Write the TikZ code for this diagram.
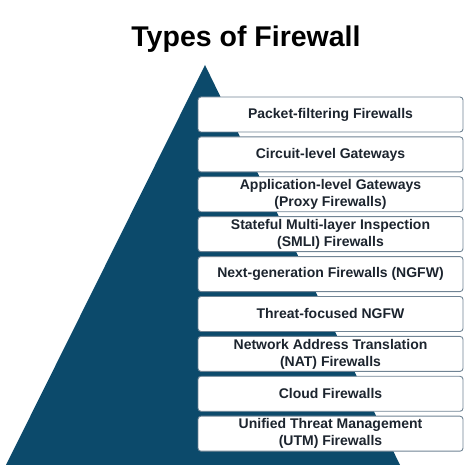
\documentclass[tikz,border=0pt]{standalone}
\usepackage{fontspec}
\setmainfont{Liberation Sans}
\usepackage{tikz}
\usetikzlibrary{positioning}
\definecolor{pyramid}{RGB}{12,74,107}
\definecolor{boxline}{RGB}{112,132,148}
\definecolor{ink}{RGB}{28,36,46}

\begin{document}
\begin{tikzpicture}[x=1pt,y=1pt,node distance=39.9pt]
\tikzstyle{layer}=[rounded corners=3pt, draw=boxline, line width=0.9pt, fill=white,
  minimum width=265pt, minimum height=35pt, inner sep=1pt, align=center,
  text=ink, font=\fontsize{14}{17}\selectfont\bfseries]
\useasboundingbox (0,0) rectangle (474,470);
\fill[pyramid] (205,405) -- (400,5) -- (6,5) -- cycle;
\node [anchor=base, text=black, font=\fontsize{28.5}{30}\selectfont\bfseries] (title) at (246,423) {Types of Firewall};

\node [layer] (pf) at (330.5,355.5) {Packet-filtering Firewalls};
\node [layer,below of=pf] (cl) {Circuit-level Gateways};
\node [layer,below of=cl] (al) {Application-level Gateways\\(Proxy Firewalls)};
\node [layer,below of=al] (smli) {Stateful Multi-layer Inspection\\(SMLI) Firewalls};
\node [layer,below of=smli] (ngfw) {Next-generation Firewalls (NGFW)};
\node [layer,below of=ngfw] (tf) {Threat-focused NGFW};
\node [layer,below of=tf] (nat) {Network Address Translation\\(NAT) Firewalls};
\node [layer,below of=nat] (cloud) {Cloud Firewalls};
\node [layer,below of=cloud] (utm) {Unified Threat Management\\(UTM) Firewalls};
\end{tikzpicture}
\end{document}
